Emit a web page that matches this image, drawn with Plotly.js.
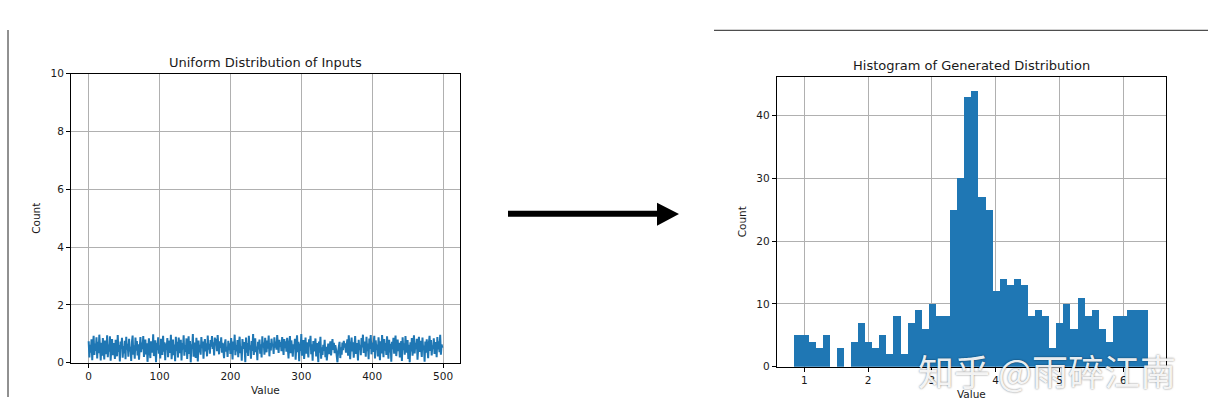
<!DOCTYPE html>
<html>
<head>
<meta charset="utf-8">
<script src="https://cdn.plot.ly/plotly-3.0.1.min.js"></script>
<style>html,body{margin:0;padding:0;background:#fff;}#chart{width:1208px;height:420px;}</style>
</head>
<body>
<div id="chart"></div>
<script>
// Left panel: input sequence (one per sample index)
const inputValues = [
0.74,0.18,0.62,0.35,0.81,0.09,0.57,0.93,0.27,0.66,
0.41,0.88,0.15,0.72,0.33,0.97,0.52,0.08,0.69,0.24,
0.85,0.46,0.11,0.77,0.59,0.30,0.95,0.19,0.63,0.38,
0.91,0.07,0.54,0.82,0.26,0.68,0.44,0.13,0.79,0.50,
0.22,0.96,0.37,0.61,0.04,0.73,0.48,0.86,0.17,0.58,
0.32,0.76,0.12,0.90,0.45,0.65,0.21,0.83,0.39,0.55,
0.06,0.71,0.94,0.28,0.60,0.14,0.87,0.42,0.75,0.25,
0.64,0.10,0.53,0.89,0.36,0.70,0.47,0.92,0.20,0.57,
0.80,0.29,0.67,0.03,0.51,0.84,0.40,0.16,0.74,0.62,
0.35,0.98,0.23,0.56,0.78,0.02,0.69,0.43,0.88,0.31,
0.60,0.15,0.83,0.49,0.27,0.93,0.38,0.71,0.09,0.66,
0.44,0.85,0.19,0.58,0.76,0.34,0.97,0.12,0.52,0.80,
0.26,0.63,0.05,0.90,0.41,0.72,0.18,0.87,0.55,0.33,
0.79,0.08,0.68,0.46,0.95,0.24,0.61,0.37,0.84,0.13,
0.57,0.91,0.30,0.75,0.01,0.64,0.48,0.99,0.21,0.70,
0.42,0.17,0.86,0.53,0.04,0.77,0.36,0.62,0.28,0.89,
0.50,0.73,0.14,0.59,0.82,0.39,0.67,0.22,0.94,0.45,
0.65,0.31,0.78,0.56,0.92,0.48,0.71,0.25,0.87,0.60,
0.83,0.40,0.96,0.58,0.29,0.74,0.51,0.88,0.35,0.69,
0.47,0.16,0.63,0.81,0.38,0.55,0.20,0.76,0.43,0.67,
0.30,0.85,0.52,0.11,0.73,0.44,0.97,0.26,0.61,0.39,
0.78,0.19,0.66,0.90,0.33,0.57,0.07,0.82,0.48,0.71,
0.54,0.02,0.87,0.35,0.68,0.23,0.93,0.45,0.60,0.14,
0.75,0.41,0.99,0.27,0.62,0.84,0.37,0.56,0.09,0.72,
0.46,0.80,0.31,0.64,0.18,0.91,0.53,0.70,0.28,0.86,
0.59,0.36,0.77,0.49,0.94,0.22,0.68,0.42,0.83,0.57,
0.65,0.30,0.88,0.52,0.73,0.45,0.96,0.61,0.34,0.79,
0.55,0.71,0.40,0.89,0.63,0.27,0.82,0.50,0.74,0.38,
0.86,0.58,0.15,0.69,0.92,0.33,0.77,0.47,0.21,0.64,
0.48,0.83,0.10,0.57,0.95,0.36,0.72,0.05,0.66,0.41,
0.99,0.24,0.60,0.78,0.13,0.52,0.87,0.31,0.70,0.45,
0.18,0.81,0.56,0.93,0.29,0.64,0.07,0.75,0.39,0.58,
0.84,0.22,0.68,0.46,0.02,0.73,0.35,0.90,0.14,0.53,
0.27,0.62,0.41,0.79,0.19,0.55,0.08,0.37,0.66,0.30,
0.49,0.74,0.25,0.58,0.82,0.44,0.69,0.33,0.61,0.47,
0.20,0.01,0.38,0.64,0.72,0.16,0.53,0.28,0.70,0.43,
0.76,0.52,0.67,0.35,0.59,0.81,0.24,0.95,0.46,0.12,
0.63,0.87,0.39,0.71,0.17,0.56,0.92,0.30,0.68,0.50,
0.08,0.79,0.44,0.62,0.26,0.85,0.53,0.97,0.34,0.73,
0.57,0.21,0.90,0.40,0.66,0.12,0.84,0.48,0.96,0.29,
0.70,0.37,0.58,0.93,0.15,0.77,0.45,0.63,0.22,0.88,
0.51,0.09,0.74,0.32,0.96,0.60,0.19,0.82,0.42,0.68,
0.27,0.91,0.55,0.14,0.79,0.36,0.65,0.03,0.72,0.47,
0.86,0.31,0.61,0.94,0.23,0.57,0.80,0.40,0.69,0.18,
0.54,0.75,0.06,0.88,0.43,0.67,0.28,0.92,0.50,0.35,
0.78,0.13,0.62,0.01,0.71,0.39,0.85,0.24,0.58,0.95,
0.32,0.69,0.47,0.83,0.10,0.64,0.90,0.37,0.76,0.52,
0.20,0.87,0.44,0.59,0.03,0.73,0.35,0.81,0.55,0.16,
0.67,0.93,0.41,0.78,0.25,0.60,0.48,0.84,0.30,0.71,
0.56,0.19,0.89,0.46,0.74,0.36,0.97,0.28,0.63,0.52
];
const inputIndex = inputValues.map((v, i) => i);

// Right panel: histogram counts (50 bins) between histMin and histMax
const histMin = 0.843;
const histMax = 6.393;
const histCounts = [
5,5,4,3,5,0,3,0,4,7,
4,3,5,2,8,2,7,9,6,10,
8,8,25,30,43,44,27,25,12,14,
13,14,13,8,9,8,3,7,10,6,
11,8,9,6,4,8,8,9,9,9
];

// Tick labels
const leftXTicks = [0, 100, 200, 300, 400, 500];
const leftYTicks = [0, 2, 4, 6, 8, 10];
const rightXTicks = [1, 2, 3, 4, 5, 6];
const rightYTicks = [0, 10, 20, 30, 40];

const leftTitle = "Uniform Distribution of Inputs";
const rightTitle = "Histogram of Generated Distribution";
const xLabel = "Value";
const yLabel = "Count";
const watermark = "知乎 @雨碎江南";

const binWidth = (histMax - histMin) / histCounts.length;
const binCenters = histCounts.map((c, i) => histMin + (i + 0.5) * binWidth);

const W = 1208, H = 420;
const px = x => x / W;
const py = y => 1 - y / H;

const BLUE = '#1f77b4';
const FONT = 'DejaVu Sans, sans-serif';
const TXT = '#1a1a1a';
const TICK_SIZE = 10.5;

const axisCommon = {
  showline: true, mirror: true, linecolor: '#000', linewidth: 1,
  showgrid: true, gridcolor: '#b0b0b0', gridwidth: 1,
  ticks: 'outside', ticklen: 4, tickcolor: '#000', tickwidth: 1,
  zeroline: false, tickfont: {family: FONT, size: TICK_SIZE, color: TXT},
  automargin: false, fixedrange: true
};

const data = [
  {
    type: 'scatter', mode: 'lines', x: inputIndex, y: inputValues,
    line: {color: BLUE, width: 2}, xaxis: 'x', yaxis: 'y', hoverinfo: 'skip'
  },
  {
    type: 'bar', x: binCenters, y: histCounts, width: binWidth,
    marker: {color: BLUE, line: {width: 0}}, xaxis: 'x2', yaxis: 'y2', hoverinfo: 'skip'
  }
];

const xmax = inputValues.length - 1;
const maxCount = Math.max(...histCounts);

const labelFont = {family: FONT, size: TICK_SIZE, color: TXT};
const titleFont = {family: FONT, size: 13, color: TXT};

const layout = {
  width: W, height: H,
  margin: {l: 0, r: 0, t: 0, b: 0},
  paper_bgcolor: '#fff', plot_bgcolor: '#fff',
  showlegend: false,
  font: {family: FONT, color: TXT},
  xaxis: Object.assign({}, axisCommon, {
    domain: [px(71), px(460)], anchor: 'y',
    range: [-0.05 * xmax, xmax * 1.05],
    tickvals: leftXTicks
  }),
  yaxis: Object.assign({}, axisCommon, {
    domain: [py(362.7), py(73.7)], anchor: 'x',
    range: [0, 10], tickvals: leftYTicks,
    title: {text: yLabel, font: labelFont}
  }),
  xaxis2: Object.assign({}, axisCommon, {
    domain: [px(776.7), px(1166)], anchor: 'y2',
    range: [histMin - 0.05 * (histMax - histMin), histMax + 0.05 * (histMax - histMin)],
    tickvals: rightXTicks
  }),
  yaxis2: Object.assign({}, axisCommon, {
    domain: [py(366.7), py(76.7)], anchor: 'x2',
    range: [0, maxCount * 1.05], tickvals: rightYTicks,
    title: {text: yLabel, font: labelFont}
  }),
  bargap: 0,
  annotations: [
    {text: leftTitle, xref: 'paper', yref: 'paper', x: px(265.5), y: py(62),
     xanchor: 'center', yanchor: 'middle', showarrow: false, font: titleFont},
    {text: rightTitle, xref: 'paper', yref: 'paper', x: px(971), y: py(65),
     xanchor: 'center', yanchor: 'middle', showarrow: false, font: titleFont},
    {text: xLabel, xref: 'paper', yref: 'paper', x: px(265.5), y: py(390),
     xanchor: 'center', yanchor: 'middle', showarrow: false, font: labelFont},
    {text: xLabel, xref: 'paper', yref: 'paper', x: px(971), y: py(394),
     xanchor: 'center', yanchor: 'middle', showarrow: false, font: labelFont},
    {text: watermark, xref: 'paper', yref: 'paper', x: px(1047), y: py(370),
     xanchor: 'center', yanchor: 'middle', showarrow: false,
     font: {family: 'Noto Sans CJK SC', size: 36, color: 'rgba(255,255,255,0.93)',
            shadow: '0px 0px 2px rgba(0,0,0,0.6)'}}
  ],
  shapes: [
    {type: 'line', xref: 'paper', yref: 'paper', x0: px(8), x1: px(8), y0: py(30), y1: py(397),
     line: {color: '#222', width: 1}},
    {type: 'line', xref: 'paper', yref: 'paper', x0: px(714), x1: 1, y0: py(30.3), y1: py(30.3),
     line: {color: '#222', width: 1}},
    {type: 'path', xref: 'paper', yref: 'paper',
     path: `M ${px(508)} ${py(210.7)} L ${px(657)} ${py(210.7)} L ${px(657)} ${py(202.7)} L ${px(679)} ${py(214)} L ${px(657)} ${py(225.7)} L ${px(657)} ${py(216.7)} L ${px(508)} ${py(216.7)} Z`,
     fillcolor: '#000', line: {color: '#000', width: 0}}
  ]
};

Plotly.newPlot('chart', data, layout, {displayModeBar: false, staticPlot: true});
</script>
</body>
</html>
